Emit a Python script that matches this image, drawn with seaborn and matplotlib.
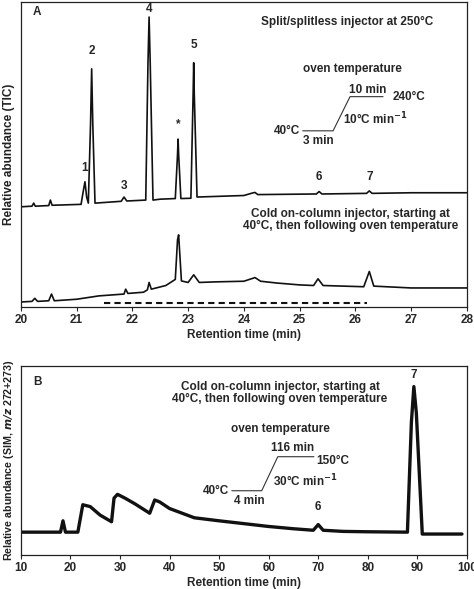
import matplotlib
matplotlib.use("Agg")
import matplotlib.pyplot as plt
import seaborn as sns

# ---- data: panel A, split/splitless trace (time, relative abundance) ----
a_top_t = [20.0, 20.2, 20.23, 20.26, 20.5, 20.53, 20.56, 21.08, 21.12, 21.15, 21.18, 21.21, 21.25, 21.27, 21.29, 21.33,
           21.8, 21.85, 21.9, 22.24, 22.28, 22.3, 22.32, 22.37, 22.5, 22.77, 22.81, 22.82, 22.83, 22.87,
           23.05, 23.09, 23.1, 23.11, 23.16,
           23.5, 24.0, 24.15, 24.2, 24.25, 25.3, 25.35, 25.4, 26.2, 26.25, 26.3, 27.0, 28.0]
a_top_y = [32.8, 33.0, 34.0, 33.0, 33.2, 35.0, 33.3, 33.6, 38.0, 41.0, 36.0, 34.0, 60.0, 78.0, 60.0, 34.0,
           34.6, 36.0, 34.7, 35.0, 80.0, 95.0, 80.0, 35.0, 35.3, 35.5, 50.0, 55.0, 50.0, 35.5,
           35.6, 70.0, 80.0, 70.0, 36.0,
           36.2, 36.5, 37.3, 37.5, 36.8, 37.0, 37.8, 37.0, 37.2, 38.0, 37.2, 37.4, 37.4]

# ---- panel A, cold on-column trace ----
a_low_t = [20.0, 20.2, 20.25, 20.3, 20.5, 20.55, 20.6, 21.0, 21.4, 21.85, 21.88, 21.92, 22.2,
           22.27, 22.3, 22.34, 22.6, 22.77, 22.81, 22.83, 22.88, 23.0, 23.1, 23.2, 23.5, 24.0, 24.2,
           24.3, 24.6, 25.0, 25.25, 25.33, 25.42, 26.15, 26.25, 26.33, 27.0, 28.0]
a_low_y = [1.6, 1.8, 2.8, 1.8, 2.0, 4.2, 2.0, 2.5, 3.6, 4.2, 5.8, 4.4, 4.8,
           5.6, 8.0, 5.8, 7.0, 9.0, 22.0, 23.6, 8.5, 8.0, 10.5, 8.0, 8.2, 8.4, 9.6,
           8.4, 7.8, 7.2, 7.0, 9.2, 7.0, 6.6, 11.6, 6.8, 6.2, 6.2]

dash_t = [21.5, 26.2]
dash_y = [1.3, 1.3]

# ---- panel B, SIM trace ----
b_t = [10, 15, 18, 18.5, 19, 21.5, 22.5, 24, 26, 28.3, 28.8, 29.5, 31, 33, 36, 37, 38,
       40, 45, 50, 55, 60, 65, 69, 70, 71, 75, 80, 88, 88.8, 89.3, 89.8, 91, 92, 99]
b_y = [12, 12, 12, 18, 12, 12, 26.5, 25.5, 21, 17.5, 30, 32, 30, 27, 22, 29, 28,
       24.5, 19.6, 18, 16.5, 15, 13.8, 13, 16, 13, 12.4, 12.2, 12, 70, 89, 75, 11, 11, 11]

a_labels = ["1", "2", "3", "4", "5", "*", "6", "7"]
a_label_t = [21.15, 21.27, 21.85, 22.3, 23.1, 22.82, 25.35, 26.25]
a_label_y = [43.6, 82, 37.7, 95.8, 84, 58, 40.6, 40.6]

b_labels = ["6", "7"]
b_label_t = [70, 89.3]
b_label_y = [22, 92]

sns.set_theme(style="white")
plt.rcParams["font.family"] = ["Liberation Sans", "DejaVu Sans"]
plt.rcParams["font.weight"] = "bold"
fs = 8.5

fig = plt.figure(figsize=(4.74, 5.89), dpi=100)
axA = fig.add_axes([0.044, 0.479, 0.941, 0.518])
axB = fig.add_axes([0.044, 0.058, 0.941, 0.321])

for ax in (axA, axB):
    for s in ax.spines.values():
        s.set_color("#222")
        s.set_linewidth(0.9)
    ax.set_yticks([])
    ax.tick_params(axis="x", bottom=True, length=3, width=0.8, labelsize=fs, pad=2)

# panel A
sns.lineplot(x=a_top_t, y=a_top_y, ax=axA, color="#111", lw=1.2, estimator=None, sort=False)
sns.lineplot(x=a_low_t, y=a_low_y, ax=axA, color="#111", lw=1.2, estimator=None, sort=False)
axA.plot(dash_t, dash_y, color="#111", lw=1.5, ls=(0, (3, 2)))
axA.set_xlim(20, 28)
axA.set_ylim(0, 100)
axA.set_xticks(range(20, 29))
axA.set_xticklabels([str(v) for v in range(20, 29)], fontweight="bold")
axA.set_xlabel("Retention time (min)", fontsize=fs, labelpad=2, fontweight="bold")
for l, t, y in zip(a_labels, a_label_t, a_label_y):
    axA.text(t, y, l, ha="center", va="bottom", fontsize=fs, fontweight="bold")

# y labels as figure text (placed left of the axes frame)
fig.text(0.018, 0.738, "Relative abundance (TIC)", rotation=90, ha="center", va="center",
         fontsize=fs, fontweight="bold", color="#222")
fig.text(0.018, 0.218, "Relative abundance (SIM, $\\mathbfit{m/z}$ 272+273)", rotation=90,
         ha="center", va="center", fontsize=fs - 0.8, fontweight="bold", color="#222")

tA = axA.transAxes
axA.text(0.027, 0.965, "A", transform=tA, fontsize=fs, fontweight="bold", va="center")
axA.text(0.731, 0.934, "Split/splitless injector at 250°C", transform=tA, ha="center",
         va="center", fontsize=fs, fontweight="bold")
axA.text(0.744, 0.780, "oven temperature", transform=tA, ha="center", va="center",
         fontsize=fs, fontweight="bold")
axA.plot([0.632, 0.700, 0.738, 0.812], [0.577, 0.577, 0.689, 0.689], transform=tA,
         color="#333", lw=0.8)
axA.text(0.625, 0.577, "40°C", transform=tA, ha="right", va="center", fontsize=fs, fontweight="bold")
axA.text(0.666, 0.545, "3 min", transform=tA, ha="center", va="center", fontsize=fs, fontweight="bold")
axA.text(0.778, 0.712, "10 min", transform=tA, ha="center", va="center", fontsize=fs, fontweight="bold")
axA.text(0.87, 0.689, "240°C", transform=tA, ha="center", va="center", fontsize=fs, fontweight="bold")
axA.text(0.794, 0.615, "10°C min$^{\\mathbf{-1}}$", transform=tA, ha="center", va="center",
         fontsize=fs, fontweight="bold")
axA.text(0.740, 0.285, "Cold on-column injector, starting at\n40°C, then following oven temperature",
         transform=tA, ha="center", va="center", fontsize=fs, fontweight="bold", linespacing=1.05)

# panel B
sns.lineplot(x=b_t, y=b_y, ax=axB, color="#111", lw=2.4, estimator=None, sort=False)
axB.set_xlim(10, 100)
axB.set_ylim(0, 100)
axB.set_xticks(range(10, 101, 10))
axB.set_xticklabels([str(v) for v in range(10, 101, 10)], fontweight="bold")
axB.set_xlabel("Retention time (min)", fontsize=fs, labelpad=2, fontweight="bold")
for l, t, y in zip(b_labels, b_label_t, b_label_y):
    axB.text(t, y, l, ha="center", va="bottom", fontsize=fs, fontweight="bold")

tB = axB.transAxes
axB.text(0.027, 0.915, "B", transform=tB, fontsize=fs, fontweight="bold", va="center")
axB.text(0.581, 0.855, "Cold on-column injector, starting at\n40°C, then following oven temperature",
         transform=tB, ha="center", va="center", fontsize=fs, fontweight="bold", linespacing=1.05)
axB.text(0.583, 0.667, "oven temperature", transform=tB, ha="center", va="center",
         fontsize=fs, fontweight="bold")
axB.plot([0.473, 0.540, 0.576, 0.657], [0.339, 0.339, 0.519, 0.519], transform=tB,
         color="#333", lw=0.8)
axB.text(0.466, 0.339, "40°C", transform=tB, ha="right", va="center", fontsize=fs, fontweight="bold")
axB.text(0.513, 0.286, "4 min", transform=tB, ha="center", va="center", fontsize=fs, fontweight="bold")
axB.text(0.610, 0.566, "116 min", transform=tB, ha="center", va="center", fontsize=fs, fontweight="bold")
axB.text(0.70, 0.497, "150°C", transform=tB, ha="center", va="center", fontsize=fs, fontweight="bold")
axB.text(0.637, 0.392, "30°C min$^{\\mathbf{-1}}$", transform=tB, ha="center", va="center",
         fontsize=fs, fontweight="bold")

fig.savefig("out.png", dpi=100)
